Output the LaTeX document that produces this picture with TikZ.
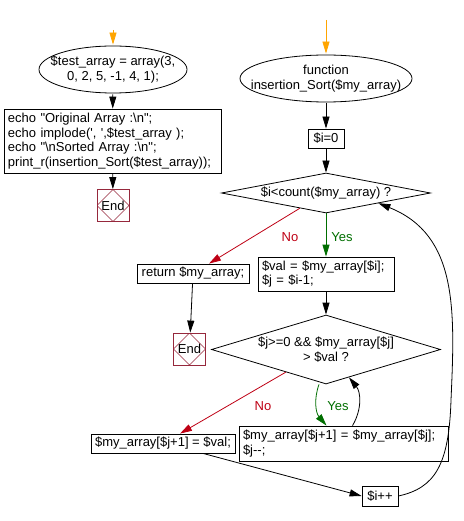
\documentclass[tikz,border=0pt]{standalone}
\usepackage{fontspec}
\setmainfont{Liberation Sans}[Ligatures=TeXOff]
\usepackage{tikz}
\usetikzlibrary{shapes.geometric}
\usetikzlibrary{arrows.meta}
\usetikzlibrary{calc}
\definecolor{noc}{RGB}{190,0,20}
\definecolor{yesc}{RGB}{0,110,0}
\definecolor{endc}{RGB}{150,40,60}
\definecolor{startc}{RGB}{255,165,0}

\begin{document}
\begin{tikzpicture}[x=1pt,y=-1pt,line width=0.8pt,font=\fontsize{13}{14.5}\selectfont,
    tv/.style 2 args={inner sep=0pt,align=center,minimum width=#1pt+2pt,minimum height=#2pt+2pt,
        path picture={\draw[line width=0.8pt] (path picture bounding box.center) ellipse [x radius=#1pt/2,y radius=#2pt/2];}},
    pv/.style={draw,inner xsep=4pt,inner ysep=2pt,align=left},
    dv/.style={draw,diamond,inner sep=0pt,align=center},
    ev/.style={draw=endc,inner sep=0pt,minimum width=32pt,minimum height=32pt,
        path picture={\draw[endc,line width=0.6pt] (path picture bounding box.north) -- (path picture bounding box.east) -- (path picture bounding box.south) -- (path picture bounding box.west) -- cycle;}},
    go/.style={-{Triangle[length=12pt,width=7pt]}}]
                \useasboundingbox (0,0) rectangle (463,521);
                \node[tv={148}{47}] (start1) at (113,69.5) {\$test\_array = array(3,\\0, 2, 5, -1, 4, 1);};
                \node[pv,text width=209pt,minimum height=64pt] (code1) at (112.5,141) {echo "Original Array :\textbackslash n";\\echo implode(', ',\$test\_array );\\echo "\textbackslash nSorted Array :\textbackslash n";\\print\_r(insertion\_Sort(\$test\_array));};
                \node[ev] (end1) at (113,205.5) {End};
                \node[tv={172}{47}] (start2) at (326,78.5) {function\\insertion\_Sort(\$my\_array)};
                \node[pv,minimum width=36pt,minimum height=19pt] (init) at (326,138.5) {\$i=0};
                \node[dv,aspect=5,minimum width=209pt,minimum height=40pt] (d1) at (326,193) {\$i<count(\$my\_array) ?};
                \node[pv,minimum width=112pt,minimum height=19pt] (ret) at (193,273.5) {return \$my\_array;};
                \node[ev] (end2) at (189.5,349) {End};
                \node[pv,text width=128pt,minimum height=34pt] (val) at (326,274) {\$val = \$my\_array[\$i];\\\$j = \$i-1;};
                \node[dv,aspect=3.3,minimum width=229pt,minimum height=69pt] (d2) at (326,349.5) {\$j>=0 \&\& \$my\_array[\$j]\\> \$val ?};
                \node[pv,text width=201pt,minimum height=35pt] (body) at (343.5,443.5) {\$my\_array[\$j+1] = \$my\_array[\$j];\\\$j--;};
                \node[pv,minimum width=144pt,minimum height=19pt] (assign) at (163,443.5) {\$my\_array[\$j+1] = \$val;};
                \node[pv,minimum width=36pt,minimum height=20pt] (inc) at (380,496) {\$i++};
                \node[text=noc] (no1) at (290,237) {No};
                \node[text=yesc] (yes1) at (342,237) {Yes};
                \node[text=noc] (no2) at (263,406) {No};
                \node[text=yesc] (yes2) at (338,406) {Yes};
                \coordinate (s1) at (113,30);
                \coordinate (s2) at (326,20);
                \draw[go,startc] (s1) -- (start1);
                \draw[go] (start1) -- (code1);
                \draw[go] (code1) -- (end1);
                \draw[go,startc] (s2) -- (start2);
                \draw[go] (start2) -- (init);
                \draw[go] (init) -- (d1);
                \draw[go,noc] ($(d1.south)!0.25!(d1.west)$) -- ([xshift=16pt]ret.north);
                \draw[go,yesc] (d1) -- (val);
                \draw[go] (ret) -- (end2);
                \draw[go] (val) -- (d2);
                \draw[go,noc] ($(d2.south)!0.35!(d2.west)$) -- ([xshift=17pt]assign.north);
                \draw[go,yesc] ([xshift=-7pt]d2.south) to[bend right=30] ([xshift=-17pt]body.north);
                \draw[go] ([xshift=9pt]body.north) to[bend right=35] ($(d2.south)!0.2!(d2.east)$);
                \draw[go] ([xshift=40pt]assign.south) -- (inc.west);
                \draw[go] (inc.east) .. controls (435,488) and (449,465) .. (451,400) .. controls (455,310) and (458,235) .. ($(d1.south)!0.5!(d1.east)$);
\end{tikzpicture}
\end{document}
